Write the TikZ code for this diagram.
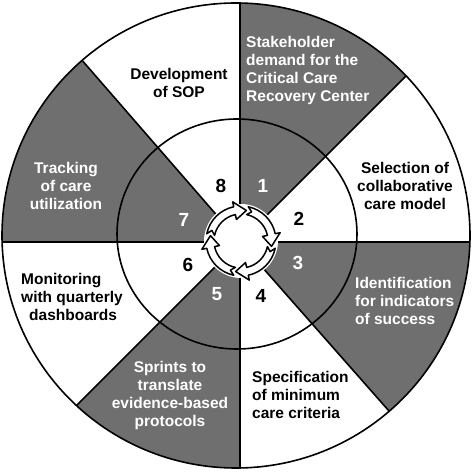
\documentclass[tikz,border=0pt]{standalone}
\usepackage{fontspec}
\setmainfont{Liberation Sans}
\usetikzlibrary{calc}
\definecolor{secgray}{RGB}{111,111,111}
\begin{document}
\begin{tikzpicture}[x=1pt,y=1pt,
  sep/.style={line width=1.6pt, draw=black},
  lbl/.style={font=\fontsize{15.5}{18}\selectfont\bfseries, inner sep=0pt, text=black},
  lblw/.style={lbl, text=white},
  num/.style={font=\fontsize{19}{20}\selectfont\bfseries, inner sep=0pt, text=black},
  numw/.style={num, text=white},
  ringarrow/.style={fill=white, draw=black, line width=1.5pt, line join=round}]
\useasboundingbox (0,0) rectangle (474,474);
\fill[white] (0,0) rectangle (474,474);
\coordinate (C) at (240,232);
\coordinate (O) at (236,238.5);
\coordinate (I) at (237,240);
\coordinate (R) at (241,233);
\begin{scope}
  \clip (O) ellipse [x radius=234, y radius=232.5];
  \foreach \a/\b in {45/90, -48.6/0, -135/-90, 131/180}{
    \fill[secgray] (C) -- ($(C)+(\a:400)$) arc[start angle=\a, end angle=\b, radius=400] -- cycle;
  }
  \foreach \a in {90,45,0,-48.6,-90,-135,180,131}{
    \draw[sep] (C) -- ($(C)+(\a:400)$);
  }
\end{scope}
\draw[sep] (O) ellipse [x radius=234, y radius=232.5];
\draw[sep] (I) ellipse [x radius=120, y radius=115];
\fill[white] (R) circle [radius=37];
\foreach \k in {0,1,2,3}{
  \pgfmathsetmacro{\T}{78-90*\k}
  \pgfmathsetmacro{\B}{12-90*\k}
  \pgfmathsetmacro{\P}{-10-90*\k}
  \pgfmathsetmacro{\N}{70-90*\k}
  \draw[ringarrow] ($(R)+(\T:35)$) arc[start angle=\T, end angle=\B, radius=35]
    -- ($(R)+(\B:40)$) -- ($(R)+(\P:31)$) -- ($(R)+(\B:22)$) -- ($(R)+(\B:27)$)
    arc[start angle=\B, end angle=\T, radius=27] -- ($(R)+(\N:31)$) -- cycle;
}
\node[lblw, anchor=west, align=left] (t1) at (246,404) {Stakeholder\\demand for the\\Critical Care\\Recovery Center};
\node[lbl, align=center] (t8) at (179,391) {Development\\of SOP};
\node[lbl, align=center] (t2) at (405,288) {Selection of\\collaborative\\care model};
\node[lblw, align=center] (t7) at (66,288) {Tracking\\of care\\utilization};
\node[lbl, align=left, anchor=west] (t6) at (21,177) {Monitoring\\with quarterly\\\hspace*{8pt}dashboards};
\node[lblw, align=left, anchor=west] (t3) at (355,173) {Identification\\for indicators\\of success};
\node[lblw, align=center] (t5) at (170,79) {Sprints to\\translate\\evidence-based\\protocols};
\node[lbl, align=left, anchor=west] (t4) at (252,79) {Specification\\of minimum\\care criteria};
\node[numw] (n1) at (263,288) {1};
\node[num] (n2) at (299,255) {2};
\node[numw] (n3) at (298,211) {3};
\node[num] (n4) at (261,178) {4};
\node[numw] (n5) at (217,180) {5};
\node[num] (n6) at (188,209) {6};
\node[numw] (n7) at (184,254) {7};
\node[num] (n8) at (221,288) {8};
\end{tikzpicture}
\end{document}
